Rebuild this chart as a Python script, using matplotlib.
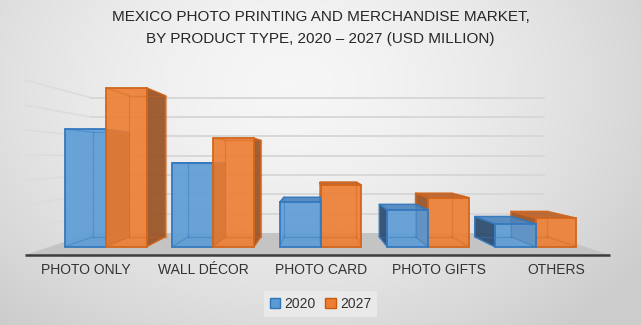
import numpy as np
import matplotlib
matplotlib.use("Agg")
import matplotlib.pyplot as plt
from matplotlib.patches import Polygon, Patch
from matplotlib import transforms

# ---- data -------------------------------------------------------------
categories = ["PHOTO ONLY", "WALL DÉCOR", "PHOTO CARD", "PHOTO GIFTS", "OTHERS"]
series_names = ["2020", "2027"]
values_2020 = [103, 73, 39, 32, 20]
values_2027 = [139, 95, 54, 43, 25]
grid_values = [20, 40, 60, 80, 100, 120, 140]
title_lines = ["MEXICO PHOTO PRINTING AND MERCHANDISE MARKET,",
               "BY PRODUCT TYPE, 2020 – 2027 (USD MILLION)"]

# ---- layout (pixels) --------------------------------------------------
W, H = 641, 325
PX_PER_CAT = 107.45          # horizontal distance between category centres
CAT2_X = 320.6               # pixel x of the third category centre
PX_PER_VALUE = 1.1425        # pixels per USD million on the front plane
ZERO_Y = 246.7               # pixel y (from top) of value 0 on the front plane
VP_PX = (316.0, 158.0)       # vanishing point of the 3-D projection
S_FLOOR_FRONT = 1.094        # depth scale of the floor front edge
S_BAR_BACK = 0.888           # depth scale of the bars' back faces
S_WALL = 0.846               # depth scale of the back wall
WALL_LEFT_PX, WALL_RIGHT_PX = 50.0, 585.0
BAR_W = 0.38

FONT = ["Liberation Sans Narrow", "Liberation Sans", "DejaVu Sans"]
plt.rcParams["font.family"] = FONT

BLUE = dict(face="#5b9bd5", side="#2c4a6c", top="#4d86c0", edge="#3579bd")
ORANGE = dict(face="#ed7d31", side="#9a5224", top="#b7612a", edge="#d2661c")

fig = plt.figure(figsize=(W / 100, H / 100), dpi=100)

# soft grey radial background
bg = fig.add_axes([0, 0, 1, 1])
bg.axis("off")
yy, xx = np.mgrid[0:H, 0:W]
r = np.clip(np.sqrt(((xx - 290) / 430.0) ** 2 + ((yy - 85) / 320.0) ** 2), 0, 1)
c0 = np.array([0.965, 0.965, 0.965])
c1 = np.array([0.80, 0.80, 0.80])
img = c0 + (c1 - c0) * (r[..., None] ** 1.6)
bg.imshow(img, extent=[0, W, H, 0], aspect="auto", interpolation="bilinear")
bg.set_xlim(0, W)
bg.set_ylim(H, 0)

# main axes: x in category units, y in USD million on the front plane
ax = fig.add_axes([0, 0, 1, 1])
ax.axis("off")
ax.patch.set_alpha(0)
ax.set_xlim(2 - CAT2_X / PX_PER_CAT, 2 + (W - CAT2_X) / PX_PER_CAT)
ax.set_ylim(-(H - ZERO_Y) / PX_PER_VALUE, ZERO_Y / PX_PER_VALUE)

VX = 2 + (VP_PX[0] - CAT2_X) / PX_PER_CAT
VV = (ZERO_Y - VP_PX[1]) / PX_PER_VALUE
XL = 2 + (WALL_LEFT_PX - CAT2_X) / PX_PER_CAT
XR = 2 + (WALL_RIGHT_PX - CAT2_X) / PX_PER_CAT


def proj(x, v, s):
    return (VX + (x - VX) * s, VV + (v - VV) * s)


# floor
floor = [proj(XL, 0, S_FLOOR_FRONT), proj(XR, 0, S_FLOOR_FRONT),
         proj(XR, 0, S_WALL), proj(XL, 0, S_WALL)]
ax.add_patch(Polygon(floor, closed=True, facecolor="#c4c4c4",
                     edgecolor="none", zorder=1))
fx = [floor[0][0], floor[1][0]]
fy = [floor[0][1], floor[1][1]]
ax.plot(fx, fy, color="#3c3c3c", lw=1.8, zorder=2, solid_capstyle="butt")

# gridlines on the side wall and back wall
for v in grid_values:
    a = proj(XL, v, S_FLOOR_FRONT)
    b = proj(XL, v, S_WALL)
    c = proj(XR, v, S_WALL)
    ax.plot([a[0], b[0]], [a[1], b[1]], color="#dcdcdc", lw=1.2, zorder=1)
    ax.plot([b[0], c[0]], [b[1], c[1]], color="#d6d6d6", lw=1.3, zorder=1)


def draw_box(x0, x1, h, col, z):
    front = [(x0, 0), (x1, 0), (x1, h), (x0, h)]
    back = [proj(x, v, S_BAR_BACK) for x, v in front]
    # visible side face
    if x1 < VX:
        side = [front[1], front[2], back[2], back[1]]
    elif x0 > VX:
        side = [front[0], front[3], back[3], back[0]]
    else:
        side = None
    if side is not None:
        ax.add_patch(Polygon(side, closed=True, facecolor=col["side"],
                             edgecolor=col["edge"], lw=1.0, alpha=0.92,
                             zorder=z))
    # top face, seen only below eye level
    if h < VV:
        top = [front[3], front[2], back[2], back[3]]
        ax.add_patch(Polygon(top, closed=True, facecolor=col["top"],
                             edgecolor=col["edge"], lw=1.0, alpha=0.92,
                             zorder=z + 0.1))
    # translucent front face
    ax.add_patch(Polygon(front, closed=True, facecolor=col["face"],
                         edgecolor="none", alpha=0.9, zorder=z + 0.2))
    # hidden edges showing through
    for i in range(4):
        p, q = back[i], back[(i + 1) % 4]
        ax.plot([p[0], q[0]], [p[1], q[1]], color=col["edge"], lw=0.9,
                alpha=0.45, zorder=z + 0.3)
        ax.plot([front[i][0], back[i][0]], [front[i][1], back[i][1]],
                color=col["edge"], lw=0.9, alpha=0.45, zorder=z + 0.3)
    ax.add_patch(Polygon(front, closed=True, facecolor="none",
                         edgecolor=col["edge"], lw=1.3, zorder=z + 0.4))


bars = []
for i, (a, b) in enumerate(zip(values_2020, values_2027)):
    bars.append((i - BAR_W, i, a, BLUE))
    bars.append((i, i + BAR_W, b, ORANGE))
# paint bars farthest from the vanishing point first
bars.sort(key=lambda t: -abs((t[0] + t[1]) / 2 - VX))
for k, (x0, x1, h, col) in enumerate(bars):
    draw_box(x0, x1, h, col, 3 + k)

# category labels along the floor front edge
lab_tr = transforms.offset_copy(ax.transData, fig=fig, x=0, y=-15, units="dots")
for i, name in enumerate(categories):
    px, py = proj(i, 0, S_FLOOR_FRONT)
    ax.text(px, py, name, transform=lab_tr, ha="center", va="center",
            fontsize=10, color="#333333", zorder=20)

# title
fig.text(0.5, 1 - 17 / H, title_lines[0], ha="center", va="center",
         fontsize=11, color="#262626")
fig.text(0.5, 1 - 39 / H, title_lines[1], ha="center", va="center",
         fontsize=11, color="#262626")

# legend
handles = [Patch(facecolor=BLUE["face"], edgecolor="#2e75b6", lw=1.0),
           Patch(facecolor=ORANGE["face"], edgecolor="#c55a11", lw=1.0)]
leg = fig.legend(handles, series_names, loc="center",
                 bbox_to_anchor=(320.5 / W, 1 - 304 / H), ncol=2,
                 frameon=True, fancybox=False, framealpha=1,
                 facecolor="#e9e9e9", edgecolor="none", fontsize=10,
                 handlelength=0.75, handleheight=0.75, handletextpad=0.3,
                 columnspacing=0.7, borderpad=0.4)
for t in leg.get_texts():
    t.set_color("#333333")

fig.savefig("out.png", dpi=100)
